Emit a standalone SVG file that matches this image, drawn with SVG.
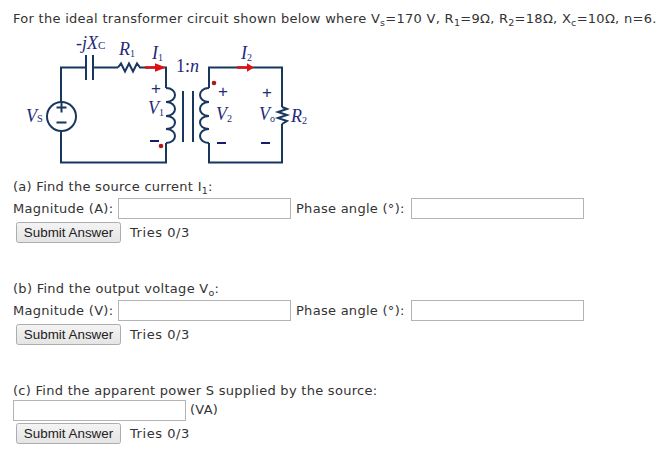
<svg xmlns="http://www.w3.org/2000/svg" width="664" height="451" viewBox="0 0 664 451">
<style>
.t{font-family:"DejaVu Sans",Verdana,sans-serif;font-size:13px;fill:#333;letter-spacing:.28px}
.n{letter-spacing:.55px}
.s{font-size:9.5px}
.i{fill:#fff;stroke:#b4b4b4;stroke-width:1}
.b{fill:url(#g);stroke:#adadad;stroke-width:1}
.bt{font-family:"Liberation Sans",Arial,sans-serif;font-size:13.4px;fill:#222;text-anchor:middle}
.w{fill:none;stroke:#17375e;stroke-width:2}
.r{fill:none;stroke:#1a1a6e;stroke-width:1.8}
.m{font-family:"Liberation Serif","Times New Roman",serif;font-size:18px;fill:#1f2a7a}
.it{font-style:italic}
.p{font-family:"Liberation Sans",Arial,sans-serif;font-size:17px;fill:#1f2a7a;text-anchor:middle}
.a{fill:#e01010}
.d{fill:#b01818}
</style>
<defs><linearGradient id="g" x1="0" y1="0" x2="0" y2="1"><stop offset="0" stop-color="#f4f4f4"/><stop offset="1" stop-color="#e4e4e4"/></linearGradient></defs>
<rect width="664" height="451" fill="#fff"/>
<g id="problem-text">
<text class="t" x="13" y="23">For the ideal transformer circuit shown below where V<tspan class="s" dy="3">s</tspan><tspan dy="-3">=170 V, R</tspan><tspan class="s" dy="3">1</tspan><tspan dy="-3">=9Ω, R</tspan><tspan class="s" dy="3">2</tspan><tspan dy="-3">=18Ω, X</tspan><tspan class="s" dy="3">c</tspan><tspan dy="-3">=10Ω, n=6.</tspan></text>
</g>
<g id="connectors">
<path class="w" d="M86 67.5H61V102M61 132V162.5H166V143"/>
<path class="w" d="M93 67.5H118M142 67.5H166V88"/>
<path class="w" d="M209 88V67.5H282V107M282 124V162.5H209V143"/>
<path class="w" d="M86 55V80M93 55V80"/>
<path class="w" d="M118 67.5l3-4 4 8 4-8 4 8 4-8 3 4h2" stroke-width="1.500"/>
<path class="w" d="M183 91V142M193 91V142"/>
<path class="w" d="M166 88c12 0 12 14 0 14 12 0 12 14 0 14 12 0 12 13 0 13 12 0 12 14 0 14"/>
<path class="w" d="M209 88c-12 0-12 14 0 14-12 0-12 14 0 14-12 0-12 13 0 13-12 0-12 14 0 14"/>
<path class="w" d="M282 107l5 2-9 3 9 3-9 3 9 3-5 3" stroke-width="1.600"/>
<path class="a" d="M145 66.200h10v-3l11 4.300-11 4.300v-3h-10z"/>
<path class="a" d="M237 66.200h10v-3l7 4.300-7 4.300v-3h-10z"/>
</g>
<g id="source-vs">
<circle cx="61.500" cy="116.500" r="14.500" fill="#fff" stroke="#17375e" stroke-width="2"/>
<path class="w" d="M56.500 107.500h10M61.500 102.500v10M56.500 122.500h10"/>
</g>
<g id="circuit-labels">
<text class="m it" x="26" y="122">V<tspan font-size="10.500" font-style="normal">S</tspan></text>
<text class="m it" x="76" y="49">-jX<tspan font-size="11" font-style="normal">C</tspan></text>
<text class="m it" x="119" y="55">R<tspan font-size="10" font-style="normal" dy="2">1</tspan></text>
<text class="m it" x="152" y="59">I<tspan font-size="10" font-style="normal" dy="2">1</tspan></text>
<text class="m it" x="241" y="59">I<tspan font-size="10" font-style="normal" dy="2">2</tspan></text>
<text class="m" x="176" y="72">1:<tspan class="it">n</tspan></text>
<text class="m it" x="148" y="114">V<tspan font-size="10" font-style="normal" dy="2">1</tspan></text>
<text class="m it" x="216" y="120">V<tspan font-size="10" font-style="normal" dy="2">2</tspan></text>
<text class="m it" x="259" y="120" font-size="17">V<tspan font-size="10" font-style="normal" dy="2">o</tspan></text>
<text class="m it" x="291" y="122">R<tspan font-size="10" font-style="normal" dy="2">2</tspan></text>
<text class="p" x="156" y="94">+</text>
<text class="p" x="223" y="97">+</text>
<text class="p" x="267" y="98">+</text>
<path class="r" d="M150 141h9M217 143h9M261 143h9"/>
<circle class="d" cx="161" cy="146" r="2.300"/>
<circle class="d" cx="214" cy="83" r="2.300"/>
</g>
<g id="part-a">
<text class="t" x="13" y="191">(a) Find the source current I<tspan class="s" dy="3">1</tspan><tspan dy="-3">:</tspan></text>
<text class="t" x="13" y="213">Magnitude (A):</text>
<rect class="i" x="118.500" y="198.500" width="172" height="20"/>
<text class="t" x="296" y="213">Phase angle (°):</text>
<rect class="i" x="411.500" y="198.500" width="172" height="20"/>
<rect class="b" x="16.500" y="222.500" width="104" height="20" rx="2"/>
<text class="bt" x="68.500" y="237">Submit Answer</text>
<text class="t n" x="130" y="237">Tries 0/3</text>
</g>
<g id="part-b">
<text class="t" x="13" y="293">(b) Find the output voltage V<tspan class="s" dy="3">o</tspan><tspan dy="-3">:</tspan></text>
<text class="t" x="13" y="315">Magnitude (V):</text>
<rect class="i" x="118.500" y="300.500" width="172" height="20"/>
<text class="t" x="296" y="315">Phase angle (°):</text>
<rect class="i" x="411.500" y="300.500" width="172" height="20"/>
<rect class="b" x="16.500" y="324.500" width="104" height="20" rx="2"/>
<text class="bt" x="68.500" y="339">Submit Answer</text>
<text class="t n" x="130" y="339">Tries 0/3</text>
</g>
<g id="part-c">
<text class="t" x="13" y="395">(c) Find the apparent power S supplied by the source:</text>
<rect class="i" x="13.500" y="400.500" width="172" height="20"/>
<text class="t" x="190" y="414">(VA)</text>
<rect class="b" x="16.500" y="423.500" width="104" height="20" rx="2"/>
<text class="bt" x="68.500" y="438">Submit Answer</text>
<text class="t n" x="130" y="438">Tries 0/3</text>
</g>
</svg>
